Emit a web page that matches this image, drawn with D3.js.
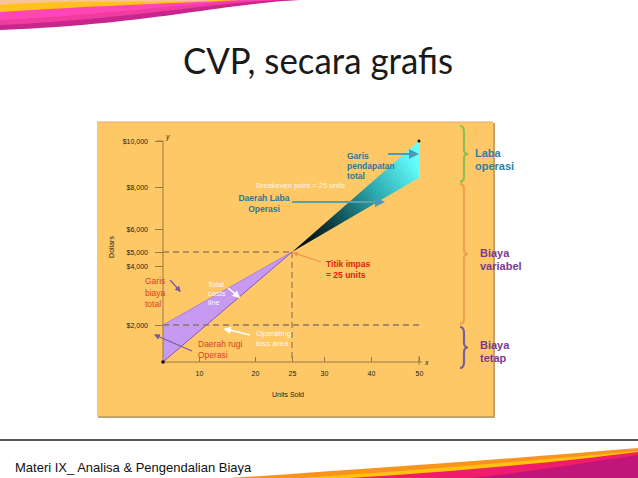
<!DOCTYPE html>
<html lang="id">
<head>
<meta charset="utf-8">
<style>
  body { margin: 0; background: #fff; }
  svg { display: block; }
  text { font-family: "Liberation Sans", Arial, sans-serif; }
</style>
</head>
<body>
<div id="chart"></div>
<script src="https://cdn.jsdelivr.net/npm/d3@7"></script>
<script>
// data
var unitTicks = [10, 20, 25, 30, 40, 50];
var dollarTicks = [2000, 4000, 5000, 6000, 8000, 10000];
var breakevenUnits = 25;
var fixedCost = 2000;
var revenueLine = [[0, 0], [25, 5000], [50, 10000]];
var costLine = [[0, 2000], [25, 5000], [50, 8400]];

var W = 638, H = 478;
var svg = d3.select("#chart").append("svg")
    .attr("width", W).attr("height", H);

var defs = svg.append("defs");

// slide decoration, top left swoosh
var topBands = [
  { c: "#c8268c", y0: 30 },
  { c: "#f03ca0", y0: 25 },
  { c: "#ff46b4", y0: 20 },
  { c: "#ffc21a", y0: 12 },
  { c: "#f9c49a", y0: 5 }
];
topBands.forEach(function (b, i) {
  var e = 300 - i * 20;
  svg.append("path")
    .attr("d", "M0,0 L" + e + ",0 C" + (e - 80) + ",4 " + (e - 150) + "," + (b.y0 - 6) + " 0," + b.y0 + " Z")
    .attr("fill", b.c);
});

// bottom right swoosh
svg.append("path").attr("d", "M230,478 C380,468 520,458 638,448 L638,478 Z").attr("fill", "#f7941d");
svg.append("path").attr("d", "M300,478 C420,470 540,460 638,451 L638,478 Z").attr("fill", "#ffc20e");
svg.append("path").attr("d", "M350,478 C450,472 560,462 638,452 L638,478 Z").attr("fill", "#ef1d6a");
svg.append("path").attr("d", "M470,478 C530,472 590,462 638,455 L638,478 Z").attr("fill", "#c0167a");

// title
svg.append("text")
    .attr("x", 318).attr("y", 74)
    .attr("text-anchor", "middle")
    .style("font-family", "Lato, 'Open Sans', sans-serif")
    .attr("font-size", 37)
    .attr("fill", "#1a1a1a")
    .attr("textLength", 270).attr("lengthAdjust", "spacingAndGlyphs")
    .text("CVP, secara grafis");

// footer
svg.append("line").attr("x1", 0).attr("x2", W).attr("y1", 440).attr("y2", 440)
    .attr("stroke", "#222").attr("stroke-width", 1.5);
svg.append("text").attr("x", 15).attr("y", 472)
    .attr("font-size", 13).attr("fill", "#111")
    .text("Materi IX_ Analisa & Pengendalian Biaya");

// chart panel
svg.append("rect").attr("x", 98).attr("y", 123).attr("width", 397).attr("height", 295)
    .attr("fill", "#c4a46a");
svg.append("rect").attr("x", 97).attr("y", 122).attr("width", 396).attr("height", 294)
    .attr("fill", "#fdc865");
svg.append("line").attr("x1", 97).attr("x2", 493).attr("y1", 122).attr("y2", 122)
    .attr("stroke", "#d9b070").attr("stroke-width", 1);

// scales (the drawing is hand made, so a piecewise scale follows its ticks)
var x = d3.scaleLinear()
    .domain([0, 10, 20, 25, 30, 40, 50])
    .range([163, 199, 255, 292, 324, 371, 419]);
var y = d3.scaleLinear()
    .domain([0, 2000, 4000, 5000, 6000, 8000, 10000])
    .range([362, 325, 266, 252, 229, 187, 141]);

var axisColor = "#9a7b45";
var g = svg.append("g");

var grad = defs.append("linearGradient").attr("id", "profit")
    .attr("gradientUnits", "userSpaceOnUse")
    .attr("x1", x(25)).attr("y1", y(5000))
    .attr("x2", x(50)).attr("y2", y(9000));
grad.append("stop").attr("offset", 0).attr("stop-color", "#000");
grad.append("stop").attr("offset", 0.3).attr("stop-color", "#0d3a3e");
grad.append("stop").attr("offset", 0.65).attr("stop-color", "#2aa7ad");
grad.append("stop").attr("offset", 1).attr("stop-color", "#66ffff");

var line = d3.line().x(function (d) { return x(d[0]); }).y(function (d) { return y(d[1]); });

// loss area and profit area
g.append("path")
    .attr("d", line([costLine[0], costLine[1], revenueLine[0]]) + "Z")
    .attr("fill", "#c79af2");
g.append("path")
    .attr("d", line([revenueLine[1], revenueLine[2], costLine[2]]) + "Z")
    .attr("fill", "url(#profit)");
g.append("path").attr("d", line(revenueLine.slice(0, 2)))
    .attr("stroke", "#8a55b8").attr("stroke-width", 1).attr("fill", "none");
g.append("path").attr("d", line(costLine.slice(0, 2)))
    .attr("stroke", "#b07ee0").attr("stroke-width", 1).attr("fill", "none");
g.append("path").attr("d", line([revenueLine[2], costLine[2]]))
    .attr("stroke", "#66ffff").attr("stroke-width", 1);

// dashed guides
var dash = "6,4";
var dashColor = "#9c7f52";
g.append("line").attr("x1", x(0)).attr("x2", x(breakevenUnits))
    .attr("y1", y(5000)).attr("y2", y(5000))
    .attr("stroke", dashColor).attr("stroke-width", 1.3).attr("stroke-dasharray", dash);
g.append("line").attr("x1", x(breakevenUnits)).attr("x2", x(breakevenUnits))
    .attr("y1", y(5000)).attr("y2", y(0))
    .attr("stroke", dashColor).attr("stroke-width", 1.3).attr("stroke-dasharray", dash);
g.append("line").attr("x1", x(0)).attr("x2", x(50) + 3)
    .attr("y1", y(fixedCost)).attr("y2", y(fixedCost))
    .attr("stroke", "#8e7468").attr("stroke-width", 1.3).attr("stroke-dasharray", dash);

// axes
var yAxis = d3.axisLeft(y).tickValues(dollarTicks)
    .tickFormat(function (d) { return "$" + d3.format(",")(d); })
    .tickSize(8).tickPadding(7);
var gy = g.append("g").attr("transform", "translate(" + x(0) + ",0)").call(yAxis);
var xAxis = d3.axisBottom(x).tickValues(unitTicks).tickSizeInner(-5).tickSizeOuter(0).tickPadding(9);
var gx = g.append("g").attr("transform", "translate(0," + y(0) + ")").call(xAxis);
[gx, gy].forEach(function (a) {
  a.select(".domain").remove();
  a.selectAll(".tick line").attr("stroke", axisColor);
  a.selectAll(".tick text").attr("font-size", 7).attr("fill", "#222")
    .attr("font-family", "Liberation Sans, Arial, sans-serif");
});
g.append("line").attr("x1", x(0)).attr("x2", x(0)).attr("y1", y(0)).attr("y2", y(10000))
    .attr("stroke", axisColor);
g.append("line").attr("x1", x(0) - 6).attr("x2", x(0)).attr("y1", y(10000)).attr("y2", y(10000))
    .attr("stroke", axisColor);
g.append("line").attr("x1", x(0)).attr("x2", x(50) + 3).attr("y1", y(0)).attr("y2", y(0))
    .attr("stroke", axisColor);
g.append("line").attr("x1", x(50)).attr("x2", x(50)).attr("y1", y(0) - 6).attr("y2", y(0) + 3)
    .attr("stroke", axisColor);
g.append("circle").attr("cx", x(0)).attr("cy", y(0)).attr("r", 1.8).attr("fill", "#111");
g.append("circle").attr("cx", x(50)).attr("cy", y(10000)).attr("r", 1.5).attr("fill", "#111");

g.append("text").attr("x", x(0) + 3).attr("y", y(10000) - 2).attr("font-size", 7)
    .attr("font-style", "italic").attr("fill", "#222").text("y");
g.append("text").attr("x", x(50) + 6).attr("y", y(0) + 3).attr("font-size", 7)
    .attr("font-style", "italic").attr("fill", "#222").text("x");
g.append("text").attr("transform", "translate(114,247) rotate(-90)")
    .attr("text-anchor", "middle").attr("font-size", 7).attr("fill", "#222").text("Dollars");
g.append("text").attr("x", 288).attr("y", 397).attr("text-anchor", "middle")
    .attr("font-size", 7).attr("fill", "#222").text("Units Sold");

// arrow heads
function marker(id, color) {
  defs.append("marker").attr("id", id)
      .attr("viewBox", "0 0 10 10").attr("refX", 8).attr("refY", 5)
      .attr("markerWidth", 5).attr("markerHeight", 5).attr("orient", "auto")
    .append("path").attr("d", "M0,0 L10,5 L0,10 Z").attr("fill", color);
}
marker("aTeal", "#4a9ab8");
marker("aWhite", "#ffffff");
marker("aPurple", "#7a5a9a");
marker("aOrange", "#f08a50");

function arrow(x1, y1, x2, y2, color, m, w) {
  g.append("line").attr("x1", x1).attr("y1", y1).attr("x2", x2).attr("y2", y2)
    .attr("stroke", color).attr("stroke-width", w || 1.5)
    .attr("marker-end", "url(#" + m + ")");
}

function label(lines, px, py, opt) {
  var t = g.append("text").attr("x", px).attr("y", py)
    .attr("font-size", opt.size).attr("fill", opt.color)
    .attr("font-weight", opt.bold ? "bold" : "normal")
    .attr("text-anchor", opt.anchor || "start")
    .attr("opacity", opt.opacity || 1);
  lines.forEach(function (s, i) {
    t.append("tspan").attr("x", px).attr("dy", i ? opt.lh : 0).text(s);
  });
}

var teal = "#2c7896";
label(["Garis", "pendapatan", "total"], 347, 159, { size: 8.5, color: teal, bold: true, lh: 10 });
arrow(388, 154, 417, 154, "#4a9ab8", "aTeal", 2);
label(["Breakeven point = 25 units"], 256, 188, { size: 7.5, color: "#fff", opacity: 0.85, lh: 0 });
label(["Daerah Laba", "Operasi"], 264, 201, { size: 8.5, color: teal, bold: true, anchor: "middle", lh: 11 });
arrow(292, 202, 383, 202, "#5aa0a8", "aTeal", 2);
label(["Titik impas", "= 25 units"], 326, 267, { size: 8.5, color: "#e01e10", bold: true, lh: 11 });
arrow(321, 262, 294, 253, "#f08a50", "aOrange", 1);
label(["Garis", "biaya", "total"], 145, 284, { size: 8.5, color: "#d8401a", lh: 11.5 });
arrow(170, 280, 180, 291, "#7a5a9a", "aPurple", 1.2);
label(["Total", "costs", "line"], 208, 287, { size: 7.5, color: "#fff", opacity: 0.9, lh: 9 });
arrow(228, 288, 239, 297, "#ffffff", "aWhite", 1.5);
label(["Operating", "loss area"], 256, 336, { size: 8, color: "#fff", opacity: 0.9, lh: 10 });
arrow(250, 335, 225, 329, "#ffffff", "aWhite", 1.5);
label(["Daerah rugi", "Operasi"], 198, 347, { size: 8.5, color: "#d8401a", lh: 11 });
arrow(192, 351, 155, 335, "#7a5a9a", "aPurple", 1.2);

// braces on the right
function brace(bx, y0, y1, color) {
  var m = (y0 + y1) / 2, w = 4;
  var d = "M" + bx + "," + y0 +
    " Q" + (bx + w) + "," + y0 + " " + (bx + w) + "," + (y0 + 6) +
    " L" + (bx + w) + "," + (m - 5) +
    " Q" + (bx + w) + "," + m + " " + (bx + w * 2) + "," + m +
    " Q" + (bx + w) + "," + m + " " + (bx + w) + "," + (m + 5) +
    " L" + (bx + w) + "," + (y1 - 6) +
    " Q" + (bx + w) + "," + y1 + " " + bx + "," + y1;
  svg.append("path").attr("d", d).attr("fill", "none")
    .attr("stroke", color).attr("stroke-width", 2.2);
}
brace(460, y(10000) - 15, y(8400) + 4, "#8fbf4f");
brace(460, y(8400) + 6, y(fixedCost) - 1, "#f0a050");
brace(460, y(fixedCost) + 2, y(0) + 6, "#7a6098");

function sideLabel(lines, px, py, color) {
  var t = svg.append("text").attr("x", px).attr("y", py)
    .attr("font-size", 11).attr("font-weight", "bold").attr("fill", color);
  lines.forEach(function (s, i) {
    t.append("tspan").attr("x", px).attr("dy", i ? 13 : 0).text(s);
  });
}
sideLabel(["Laba", "operasi"], 475, 157, "#2f7fa6");
sideLabel(["Biaya", "variabel"], 480, 257, "#7a3a90");
sideLabel(["Biaya", "tetap"], 480, 349, "#7a3a90");
</script>
</body>
</html>
